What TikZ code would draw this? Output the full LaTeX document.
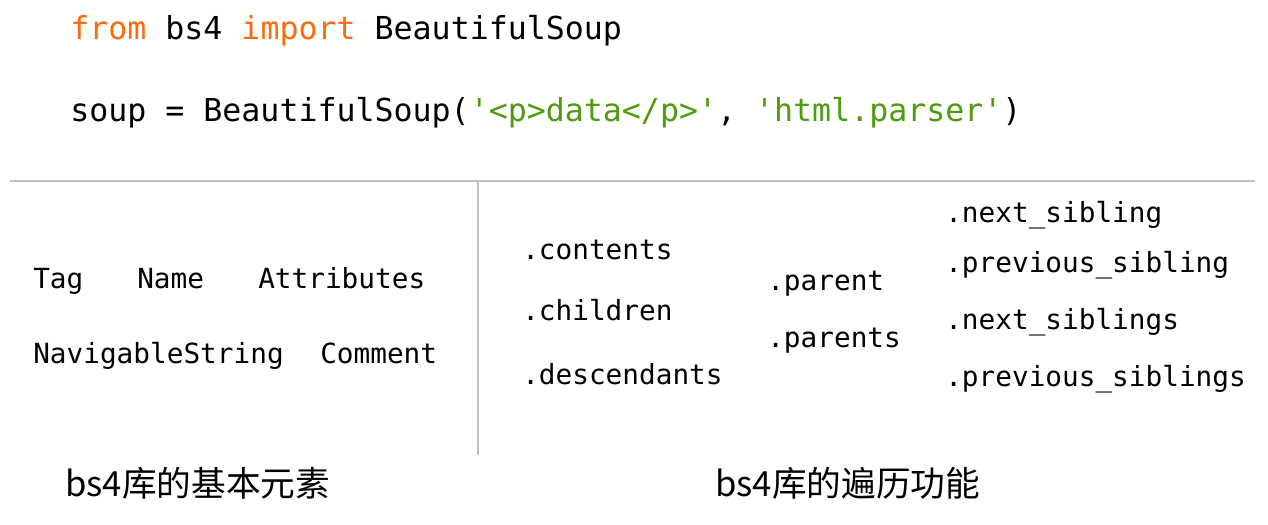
\documentclass[tikz,border=0pt]{standalone}
\usepackage{fontspec}
\setmonofont{DejaVu Sans Mono}
\newfontfamily\cjk{Noto Sans CJK SC}
\usepackage{xcolor}
\usetikzlibrary{positioning}
\definecolor{kwcolor}{HTML}{FF6A0D}
\definecolor{strcolor}{HTML}{4F9A0E}
\definecolor{rulecolor}{HTML}{BFBFBF}
\tikzset{
  code/.style={anchor=base west, inner sep=0pt, font=\ttfamily\fontsize{23.7}{28}\selectfont},
  item/.style={anchor=base west, inner sep=0pt, font=\ttfamily\fontsize{20.8}{24}\selectfont},
  caption/.style={anchor=base west, inner sep=0pt, font=\cjk\fontsize{26}{30}\selectfont},
  sep/.style={draw=rulecolor, line width=1.5pt}
}
\begin{document}
\begin{tikzpicture}[x=0.75pt, y=-0.75pt]
			\useasboundingbox (0,0) rectangle (1268,525);
			% code lines
			\node[code](imp) at (70,39) {\textcolor{kwcolor}{from} bs4 \textcolor{kwcolor}{import} BeautifulSoup};
			\node[code](soup) at (70,121) {soup = BeautifulSoup(\textcolor{strcolor}{'<p>data</p>'}, \textcolor{strcolor}{'html.parser'})};
			
			% separators
			\coordinate (hl) at (10,181);
			\coordinate (hr) at (1255,181);
			\coordinate (vt) at (478,181);
			\coordinate (vb) at (478,455);
			\draw[sep] (hl) -- (hr);
			\draw[sep] (vt) -- (vb);
			
			% basic elements
			\node[item](tag) at (33,288) {Tag};
			\node[item](name) at (137,288) {Name};
			\node[item](attrs) at (258,288) {Attributes};
			\node[item](navstr) at (33,363) {NavigableString};
			\node[item](comment) at (320,363) {Comment};
			
			% traversal
			\node[item](contents) at (522,259) {.contents};
			\node[item](children) at (522,320) {.children};
			\node[item](descendants) at (522,384) {.descendants};
			\node[item](parent) at (767,290) {.parent};
			\node[item](parents) at (767,347) {.parents};
			\node[item](nsib) at (945,222) {.next\_sibling};
			\node[item](psib) at (945,272) {.previous\_sibling};
			\node[item](nsibs) at (945,329) {.next\_siblings};
			\node[item](psibs) at (945,386) {.previous\_siblings};
			
			% captions
			\node[caption](capl) at (65,496) {bs4库的基本元素};
			\node[caption](capr) at (715,496) {bs4库的遍历功能};
		\end{tikzpicture}
\end{document}
